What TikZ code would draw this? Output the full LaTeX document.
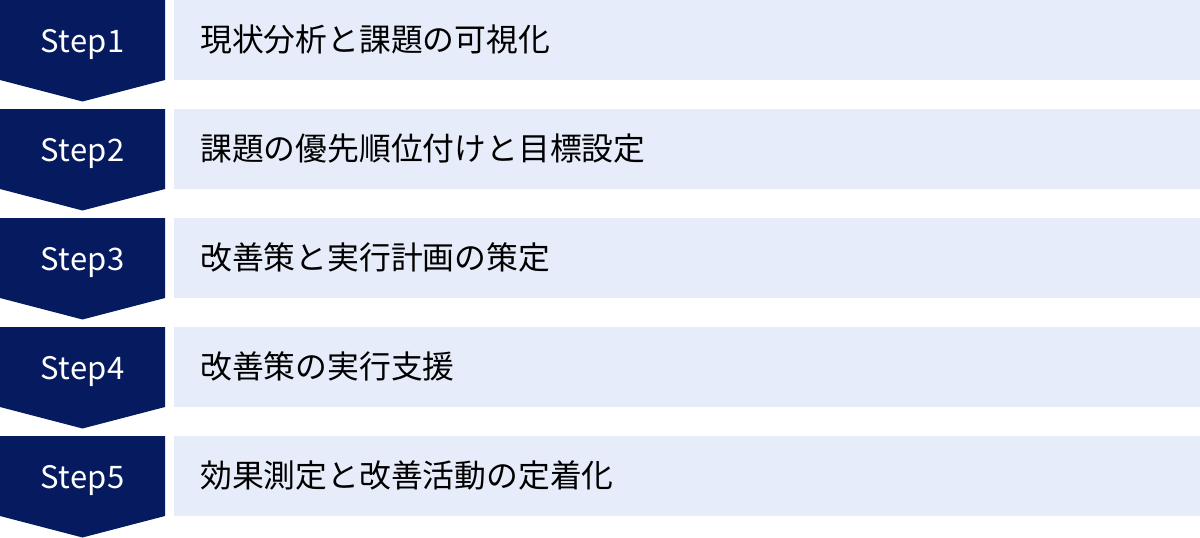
\documentclass[tikz,border=0pt]{standalone}
\usepackage{fontspec}
\setmainfont{Noto Sans CJK JP}
\newfontfamily\stepfont[LetterSpace=1.5]{Noto Sans CJK JP}
\definecolor{navy}{HTML}{061A5F}
\definecolor{pale}{HTML}{E6ECF9}
\tikzset{
  tagshape/.style={fill=navy},
  barshape/.style={fill=pale},
  taglabel/.style={text=white, font=\stepfont\fontsize{31}{36}\selectfont, anchor=base, inner sep=0pt},
  barlabel/.style={text=black, font=\fontsize{31.8}{36}\selectfont, anchor=west, inner sep=0pt},
}
\begin{document}
\begin{tikzpicture}[x=1pt,y=1pt]
\useasboundingbox (0,0) rectangle (1200,-538);
\foreach \i/\t in {1/現状分析と課題の可視化,2/課題の優先順位付けと目標設定,3/改善策と実行計画の策定,4/改善策の実行支援,5/効果測定と改善活動の定着化}{
  \pgfmathsetmacro{\top}{-109*(\i-1)}
  \fill[tagshape] (0,\top) -- (165,\top) -- (165,\top-80) -- (82.5,\top-101.5) -- (0,\top-80) -- cycle;
  \fill[barshape] (174,\top) rectangle (1200,\top-80);
  \node[taglabel] (tag\i) at (82.5,\top-52.3) {Step\i};
  \node[barlabel] (bar\i) at (200,\top-39) {\t};
}
\end{tikzpicture}
\end{document}
